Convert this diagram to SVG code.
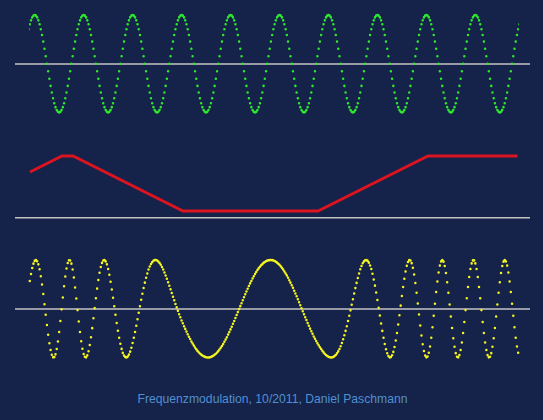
<svg xmlns="http://www.w3.org/2000/svg" width="543" height="420" viewBox="0 0 543 420">
<style>
.bg{fill:#152249}
.axis{stroke:#c4c4c4;stroke-width:1.5;fill:none}
.dots{fill:none;stroke-linecap:round;stroke-width:2.05}
#carrier{stroke:#2ee82e}
#fm{stroke:#f4f41e}
.mod{fill:none;stroke:#dc1420;stroke-width:2.8;stroke-linejoin:miter}
.cap{font-family:"Liberation Sans",Arial,sans-serif;font-size:12.2px;fill:#5090d0;text-anchor:middle}
</style>
<defs>
<path id="per" d="M0-39.2h0M1-38.7h0M2-37.3h0M3-34.9h0M4-31.7h0M5-27.7h0M6-23.1h0M7-17.8h0M8-12.1h0M9-6.1h0M10 0h0M11 6.1h0M12 12.1h0M13 17.8h0M14 23.1h0M15 27.7h0M16 31.7h0M17 34.9h0M18 37.3h0M19 38.7h0M20 39.2h0M21 38.7h0M22 37.3h0M23 34.9h0M24 31.7h0M25 27.7h0M26 23.1h0M27 17.8h0M28 12.1h0M29 6.1h0M30 0h0M31-6.1h0M32-12.1h0M33-17.8h0M34-23.1h0M35-27.7h0M36-31.7h0M37-34.9h0M38-37.3h0M39-38.7h0"/>
<clipPath id="clipTop"><rect x="-0.6" y="-45" width="400.2" height="90"/></clipPath>
</defs>
<rect class="bg" x="0" y="0" width="543" height="420"/>
<g id="baselines" class="axis">
<line x1="15" y1="64" x2="530" y2="64"/>
<line x1="15" y1="217.7" x2="530" y2="217.7"/>
<line x1="15" y1="309" x2="530" y2="309"/>
</g>
<g id="carrier" class="dots" transform="translate(29.8 63.75) scale(1.224 1.243)" clip-path="url(#clipTop)">
<use href="#per" x="-36"/><use href="#per" x="4"/><use href="#per" x="44"/><use href="#per" x="84"/><use href="#per" x="124"/><use href="#per" x="164"/><use href="#per" x="204"/><use href="#per" x="244"/><use href="#per" x="284"/><use href="#per" x="324"/><use href="#per" x="364"/>
</g>
<g id="modulation">
<polyline class="mod" points="30,172 62,156 73,156 183,211 318,211 428,156 517.5,156"/>
</g>
<g id="fm" class="dots" transform="translate(29.8 308.75) scale(1.224 1.243)">
<path d="M0-22.3h0M1-28h0M2-32.8h0M3-36.3h0M4-38.5h0M5-39.2h0M6-38.2h0M7-35.7h0M8-31.7h0M9-26.2h0M10-19.5h0M11-11.9h0M12-3.7h0M13 4.8h0M14 13.1h0M15 20.9h0M16 27.7h0M17 33.2h0M18 37h0M19 39h0M20 38.9h0M21 36.7h0M22 32.4h0M23 26.3h0M24 18.7h0M25 9.9h0M26 0.5h0M27-9.1h0M28-18.1h0M29-26h0M30-32.4h0M31-36.8h0M32-39h0M33-38.8h0M34-36.3h0M35-31.6h0M36-25.1h0M37-17.1h0M38-8.2h0M39 1.1h0M40 10.2h0M41 18.7h0M42 26.2h0M43 32.2h0M44 36.4h0M45 38.7h0M46 39.1h0M47 37.5h0M48 34.2h0M49 29.2h0M50 22.9h0M51 15.6h0M52 7.7h0M53-0.5h0M54-8.5h0M55-16.2h0M56-23.1h0M57-28.9h0M58-33.6h0M59-36.9h0M60-38.8h0M61-39.1h0M62-38.1h0M63-35.7h0M64-32h0M65-27.3h0M66-21.7h0M67-15.5h0M68-8.8h0M69-2h0M70 4.9h0M71 11.5h0M72 17.7h0M73 23.3h0M74 28.2h0M75 32.3h0M76 35.5h0M77 37.7h0M78 38.9h0M79 39.2h0M80 38.5h0M81 36.9h0M82 34.5h0M83 31.4h0M84 27.6h0M85 23.3h0M86 18.7h0M87 13.7h0M88 8.5h0M89 3.2h0M90-2h0M91-7.2h0M92-12.1h0M93-16.7h0M94-21h0M95-25h0M96-28.4h0M97-31.5h0M98-34h0M99-36h0M100-37.5h0M101-38.6h0M102-39.1h0M103-39.2h0M104-38.8h0M105-38h0M106-36.9h0M107-35.4h0M108-33.6h0M109-31.5h0M110-29.2h0M111-26.8h0M112-24.1h0M113-21.3h0M114-18.5h0M115-15.6h0M116-12.6h0M117-9.7h0M118-6.8h0M119-3.9h0M120-1.1h0M121 1.7h0M122 4.4h0M123 6.9h0M124 9.4h0M125 11.7h0M126 14h0M127 16.2h0M128 18.4h0M129 20.5h0M130 22.5h0M131 24.4h0M132 26.3h0M133 28h0M134 29.6h0M135 31.2h0M136 32.6h0M137 33.9h0M138 35h0M139 36h0M140 36.9h0M141 37.6h0M142 38.2h0M143 38.7h0M144 39h0M145 39.2h0M146 39.2h0M147 39.1h0M148 38.8h0M149 38.3h0M150 37.8h0M151 37h0M152 36.2h0M153 35.2h0M154 34.1h0M155 32.8h0M156 31.4h0M157 29.9h0M158 28.3h0M159 26.6h0M160 24.8h0M161 22.9h0M162 20.8h0M163 18.8h0M164 16.6h0M165 14.4h0M166 12.1h0M167 9.8h0M168 7.5h0M169 5.1h0M170 2.7h0M171 0.3h0M172-2.1h0M173-4.5h0M174-6.9h0M175-9.3h0M176-11.6h0M177-13.9h0M178-16.1h0M179-18.3h0M180-20.4h0M181-22.4h0M182-24.3h0M183-26.2h0M184-27.9h0M185-29.5h0M186-31.1h0M187-32.5h0M188-33.8h0M189-34.9h0M190-35.9h0M191-36.9h0M192-37.6h0M193-38.2h0M194-38.7h0M195-39h0M196-39.1h0M197-39.2h0M198-39.1h0M199-38.8h0M200-38.4h0M201-37.8h0M202-37.1h0M203-36.2h0M204-35.3h0M205-34.1h0M206-32.9h0M207-31.5h0M208-30h0M209-28.4h0M210-26.7h0M211-24.9h0M212-23h0M213-21h0M214-18.9h0M215-16.8h0M216-14.5h0M217-12.3h0M218-10h0M219-7.6h0M220-5.2h0M221-2.8h0M222-0.4h0M223 2h0M224 4.4h0M225 6.8h0M226 9.1h0M227 11.4h0M228 13.7h0M229 16h0M230 18.1h0M231 20.2h0M232 22.3h0M233 24.2h0M234 26h0M235 27.8h0M236 29.4h0M237 31h0M238 32.4h0M239 33.8h0M240 35.1h0M241 36.2h0M242 37.2h0M243 38h0M244 38.6h0M245 39h0M246 39.2h0M247 39.1h0M248 38.8h0M249 38.1h0M250 37.2h0M251 35.9h0M252 34.3h0M253 32.4h0M254 30.1h0M255 27.5h0M256 24.6h0M257 21.3h0M258 17.8h0M259 14h0M260 9.9h0M261 5.7h0M262 1.3h0M263-3.2h0M264-7.7h0M265-12.2h0M266-16.6h0M267-20.8h0M268-24.8h0M269-28.4h0M270-31.7h0M271-34.4h0M272-36.6h0M273-38.1h0M274-39h0M275-39.1h0M276-38.5h0M277-37.1h0M278-34.8h0M279-31.9h0M280-28.1h0M281-23.6h0M282-18.6h0M283-13h0M284-7h0M285-0.8h0M286 5.5h0M287 11.8h0M288 17.8h0M289 23.4h0M290 28.3h0M291 32.6h0M292 35.8h0M293 38.1h0M294 39.1h0M295 38.9h0M296 37.4h0M297 34.7h0M298 30.7h0M299 25.6h0M300 19.5h0M301 12.6h0M302 5.2h0M303-2.5h0M304-10.2h0M305-17.5h0M306-24.2h0M307-30h0M308-34.5h0M309-37.6h0M310-39.1h0M311-38.8h0M312-36.7h0M313-32.9h0M314-27.5h0M315-20.7h0M316-12.8h0M317-4.2h0M318 4.7h0M319 13.4h0M320 21.5h0M321 28.5h0M322 34h0M323 37.6h0M324 39.1h0M325 38.4h0M326 35.4h0M327 30.3h0M328 23.3h0M329 14.9h0M330 5.6h0M331-4h0M332-13.4h0M333-21.9h0M334-29.2h0M335-34.7h0M336-38.1h0M337-39.2h0M338-37.9h0M339-34.4h0M340-28.8h0M341-21.4h0M342-12.8h0M343-3.4h0M344 6.2h0M345 15.5h0M346 23.8h0M347 30.6h0M348 35.7h0M349 38.6h0M350 39.1h0M351 37.3h0M352 33.2h0M353 27.2h0M354 19.5h0M355 10.6h0M356 1.1h0M357-8.4h0M358-17.5h0M359-25.5h0M360-32h0M361-36.5h0M362-38.9h0M363-38.9h0M364-36.5h0M365-32h0M366-25.5h0M367-17.5h0M368-8.4h0M369 1.1h0M370 10.6h0M371 19.5h0M372 27.2h0M373 33.2h0M374 37.3h0M375 39.1h0M376 38.6h0M377 35.7h0M378 30.6h0M379 23.8h0M380 15.5h0M381 6.2h0M382-3.4h0M383-12.8h0M384-21.4h0M385-28.8h0M386-34.4h0M387-37.9h0M388-39.2h0M389-38.1h0M390-34.7h0M391-29.2h0M392-21.9h0M393-13.4h0M394-4h0M395 5.6h0M396 14.9h0M397 23.3h0M398 30.3h0M399 35.4h0"/>
</g>
<g id="caption">
<text class="cap" x="272.5" y="403">Frequenzmodulation, 10/2011, Daniel Paschmann</text>
</g>
</svg>
